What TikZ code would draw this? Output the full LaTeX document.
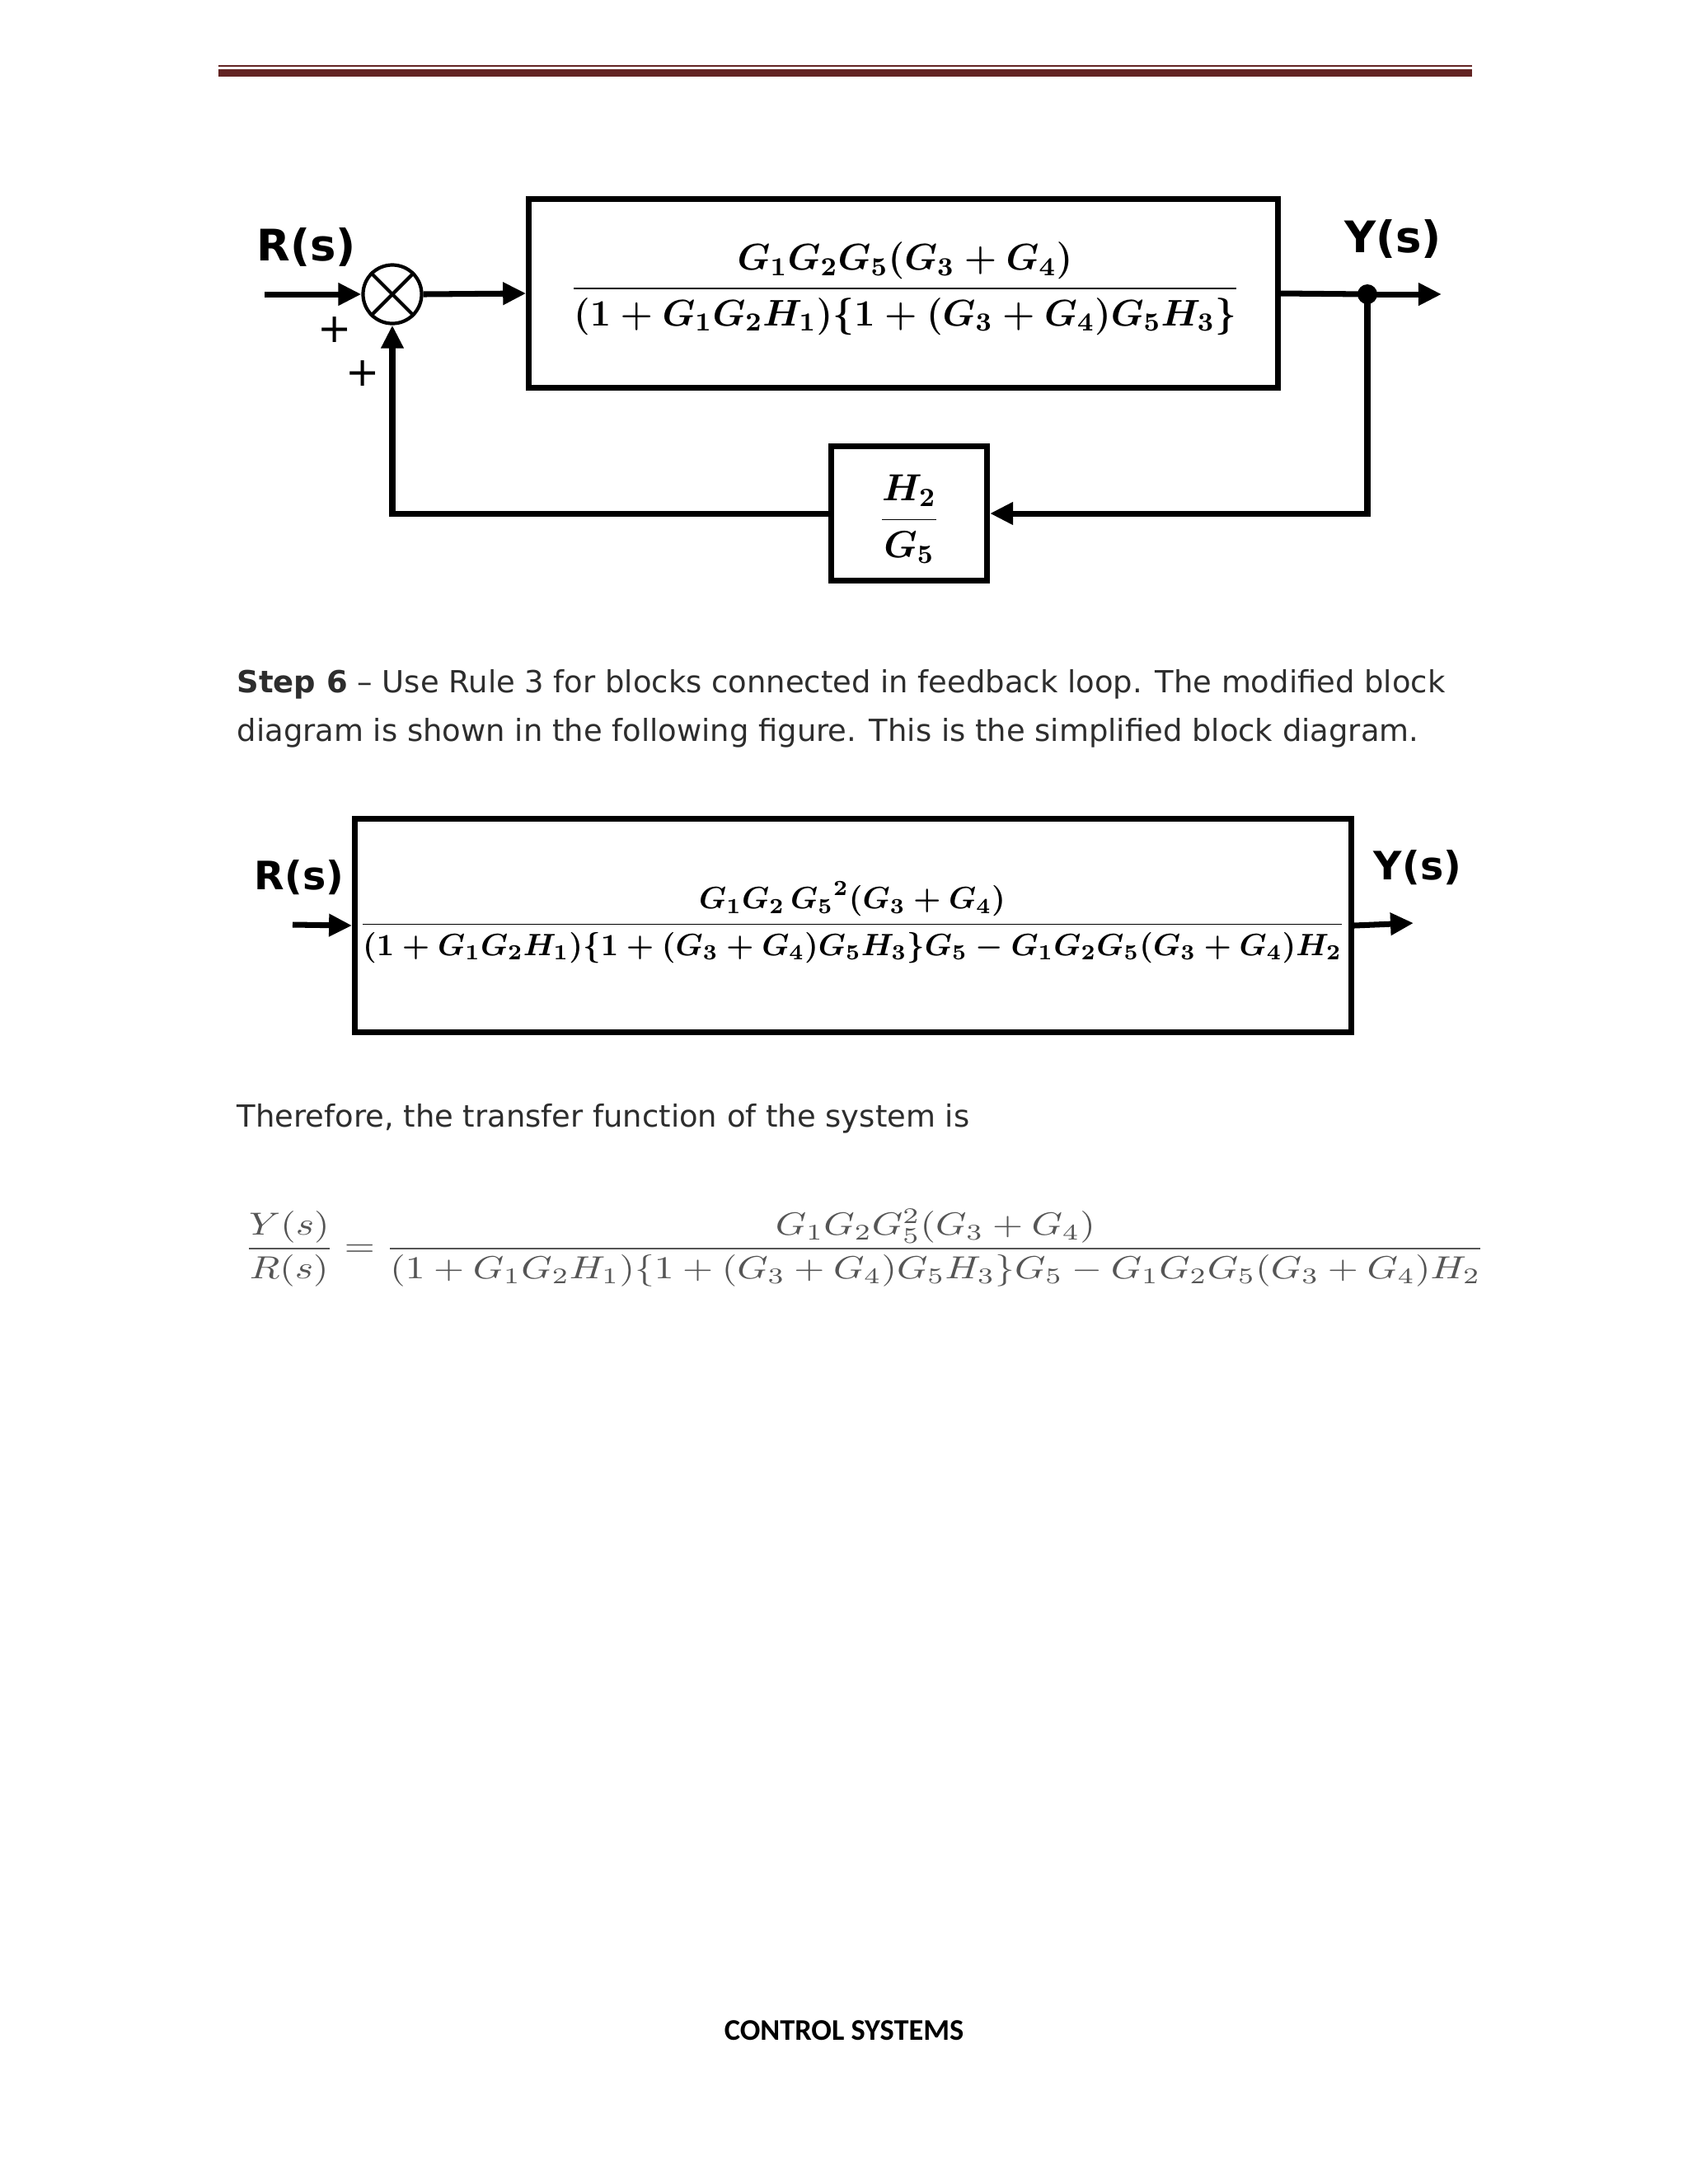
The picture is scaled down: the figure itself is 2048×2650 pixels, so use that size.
\RequirePackage{fix-cm}
\documentclass[tikz,border=0pt]{standalone}
\usepackage{amsmath}
\usepackage[no-math]{fontspec}
\newfontfamily\verdfont{DejaVu Sans}
\newfontfamily\calibfont{Carlito}
\usetikzlibrary{positioning, arrows.meta, calc}

\definecolor{barred}{RGB}{99,36,35}
\definecolor{textgray}{RGB}{45,45,45}
\definecolor{eqgray}{RGB}{85,85,85}

\begin{document}
\begin{tikzpicture}[x=0.01cm, y=-0.01cm,
    arrow/.style={-{Stealth[length=2.8mm, width=2.6mm, inset=0pt]}, line width=2pt},
    block/.style={draw, line width=2pt, inner sep=0pt},
    sig/.style={font=\verdfont\bfseries\fontsize{15}{18}\selectfont},
    sigsmall/.style={font=\verdfont\bfseries\fontsize{13.5}{16}\selectfont},
    para/.style={anchor=base west, inner sep=0pt, text=textgray, font=\verdfont\fontsize{10.5}{12}\selectfont}
]
    \useasboundingbox[fill=white] (0,0) rectangle (2048,2650);

    % Header rule
    \draw[barred, line width=0.7pt] (265,80) -- (1786,80);
    \fill[barred] (265,84) rectangle (1786,93);

    % First diagram: forward block with feedback H2/G5
    \node[block, minimum width=9.08cm, minimum height=2.29cm] (fwd) at (1096,356) {};
    \node[font=\boldmath\fontsize{12.8}{15}\selectfont] (fwdtf) at (1098,350)
        {$\dfrac{G_1G_2G_5(G_3+G_4)}{(1+G_1G_2H_1)\{1+(G_3+G_4)G_5H_3\}}$};
    \node[block, minimum width=1.89cm, minimum height=1.63cm] (fb) at (1103,623) {};
    \node[font=\boldmath\fontsize{13}{15}\selectfont] (fbtf) at (1103,630) {$\dfrac{H_2}{\rule{0pt}{11.5pt}G_5}$};

    % Summing point
    \node[draw, circle, line width=1.2pt, minimum size=0.71cm, inner sep=0pt] (sum) at (476,357) {};
    \draw[line width=1.2pt] (sum.north west) -- (sum.south east);
    \draw[line width=1.2pt] (sum.north east) -- (sum.south west);
    \node[font=\verdfont\fontsize{14}{16}\selectfont] (plusa) at (406,400) {+};
    \node[font=\verdfont\fontsize{14}{16}\selectfont] (plusb) at (440,453) {+};

    % Signals
    \coordinate (rin) at (321,357);
    \coordinate (split) at (1659,357);
    \coordinate (yout) at (1749,357);
    \node[sig] (rlabel) at (372,300) {R(s)};
    \node[sig] (ylabel) at (1690,290) {Y(s)};

    \draw[arrow] (rin) -- (sum.west);
    \draw[arrow] (sum.east) -- (fwd.west);
    \draw[line width=2pt] (fwd.east) -- (split);
    \draw[arrow] (split) -- (yout);
    \fill (split) circle (0.12cm);
    \draw[arrow] (split) |- (fb.east);
    \draw[arrow] (fb.west) -| (sum.south);

    % Step text
    \node[para] (stepa) at (287,840) {\textbf{Step 6} \textendash{} Use Rule 3 for blocks connected in feedback loop. The modified block};
    \node[para] (stepb) at (287,899) {diagram is shown in the following figure. This is the simplified block diagram.};

    % Second diagram: simplified block
    \node[block, minimum width=12.08cm, minimum height=2.58cm] (tf) at (1035,1123) {};
    \node[font=\boldmath\fontsize{10.65}{13}\selectfont] (tfeq) at (1034,1119)
        {$\dfrac{G_1G_2\,{G_5}^2(G_3+G_4)}{(1+G_1G_2H_1)\{1+(G_3+G_4)G_5H_3\}G_5-G_1G_2G_5(G_3+G_4)H_2}$};
    \coordinate (rin2) at (355,1122);
    \coordinate (yout2) at (1715,1120);
    \node[sigsmall] (rlabel2) at (363,1065) {R(s)};
    \node[sigsmall] (ylabel2) at (1720,1053) {Y(s)};
    \draw[arrow] (rin2) -- (tf.west);
    \draw[arrow] (tf.east) -- (yout2);

    % Transfer function
    \node[para] (thus) at (287,1367) {Therefore, the transfer function of the system is};
    \node[text=eqgray, anchor=west, inner sep=0pt, xscale=1.23, transform shape, font=\fontsize{11}{13}\selectfont] (final) at (296,1514)
        {$\dfrac{Y(s)}{R(s)}=\dfrac{G_1G_2G_5^2(G_3+G_4)}{(1+G_1G_2H_1)\{1+(G_3+G_4)G_5H_3\}G_5-G_1G_2G_5(G_3+G_4)H_2}$};

    % Footer
    \node[font=\calibfont\bfseries\fontsize{10.35}{12}\selectfont] (footer) at (1024,2464) {CONTROL SYSTEMS};
\end{tikzpicture}
\end{document}
